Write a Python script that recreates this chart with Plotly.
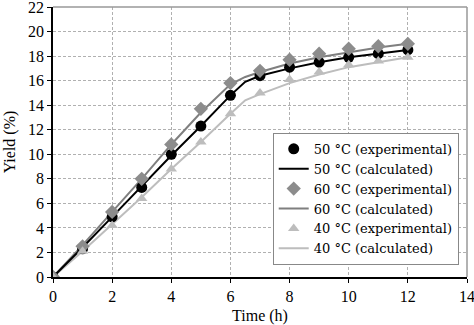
import plotly.graph_objects as go

time_exp = [0, 1, 2, 3, 4, 5, 6, 7, 8, 9, 10, 11, 12]
exp_50 = [0, 2.3, 4.9, 7.3, 10.0, 12.3, 14.8, 16.4, 17.1, 17.5, 17.9, 18.2, 18.5]
exp_60 = [0, 2.5, 5.3, 8.0, 10.8, 13.7, 15.8, 16.8, 17.7, 18.2, 18.6, 18.8, 19.0]
exp_40 = [0, 2.1, 4.2, 6.4, 8.8, 11.0, 13.3, 15.0, 16.1, 16.7, 17.3, 17.6, 17.9]

time_calc = [0, 1, 2, 3, 4, 5, 6, 6.5, 7, 8, 9, 10, 11, 12]
calc_50 = [0, 2.4, 4.9, 7.4, 9.9, 12.3, 14.8, 15.9, 16.4, 17.0, 17.5, 17.9, 18.2, 18.5]
calc_60 = [0, 2.6, 5.3, 8.0, 10.8, 13.4, 15.7, 16.3, 16.7, 17.4, 17.9, 18.3, 18.7, 19.0]
calc_40 = [0, 2.1, 4.3, 6.5, 8.8, 11.0, 13.3, 14.4, 14.9, 15.8, 16.5, 17.1, 17.5, 17.9]

c50, c60, c40 = "#000000", "#7f7f7f", "#bdbdbd"
font = "Liberation Serif"
lfont = "DejaVu Serif"

fig = go.Figure()
fig.add_trace(go.Scatter(x=time_calc, y=calc_40, mode="lines", line=dict(color=c40, width=2),
                         name="40 °C (calculated)", legendrank=6))
fig.add_trace(go.Scatter(x=time_calc, y=calc_60, mode="lines", line=dict(color=c60, width=2),
                         name="60 °C (calculated)", legendrank=4))
fig.add_trace(go.Scatter(x=time_calc, y=calc_50, mode="lines", line=dict(color=c50, width=2),
                         name="50 °C (calculated)", legendrank=2))
fig.add_trace(go.Scatter(x=time_exp, y=exp_50, mode="markers",
                         marker=dict(symbol="circle", size=11, color=c50),
                         name="50 °C (experimental)", legendrank=1))
fig.add_trace(go.Scatter(x=time_exp, y=exp_60, mode="markers",
                         marker=dict(symbol="diamond", size=11, color="#8c8c8c"),
                         name="60 °C (experimental)", legendrank=3))
fig.add_trace(go.Scatter(x=time_exp, y=exp_40, mode="markers",
                         marker=dict(symbol="triangle-up", size=10, color=c40),
                         name="40 °C (experimental)", legendrank=5))

axis_common = dict(showgrid=True, gridcolor="#b0b0b0", griddash="3px,2px", gridwidth=1,
                   showline=True, linecolor="#000000", linewidth=1.5,
                   ticks="outside", ticklen=4, tickcolor="#000000",
                   ticklabeloverflow="allow", automargin=False,
                   zeroline=False, tickfont=dict(family=font, size=16, color="#000"))

fig.update_layout(
    width=474, height=325,
    margin=dict(l=53, r=7, t=7, b=48),
    paper_bgcolor="white", plot_bgcolor="white",
    font=dict(family=font, size=15, color="#000"),
    xaxis=dict(range=[0, 14], dtick=2, tick0=0,
               title=dict(text="Time (h)", font=dict(family=font, size=16), standoff=9),
               **axis_common),
    yaxis=dict(range=[0, 22], dtick=2, tick0=0,
               title=dict(text="Yield (%)", font=dict(family=font, size=16), standoff=8),
               **axis_common),
    legend=dict(x=0.98, y=0.045, xanchor="right", yanchor="bottom",
                bgcolor="white", bordercolor="#888", borderwidth=1,
                tracegroupgap=0,
                font=dict(family=lfont, size=13)),
    shapes=[
        dict(type="line", xref="paper", yref="paper", x0=0, x1=1, y0=1, y1=1,
             line=dict(color="#999", width=1.5)),
        dict(type="line", xref="paper", yref="paper", x0=1, x1=1, y0=0, y1=1,
             line=dict(color="#999", width=1.5)),
    ],
)

fig.write_html("out.html")
